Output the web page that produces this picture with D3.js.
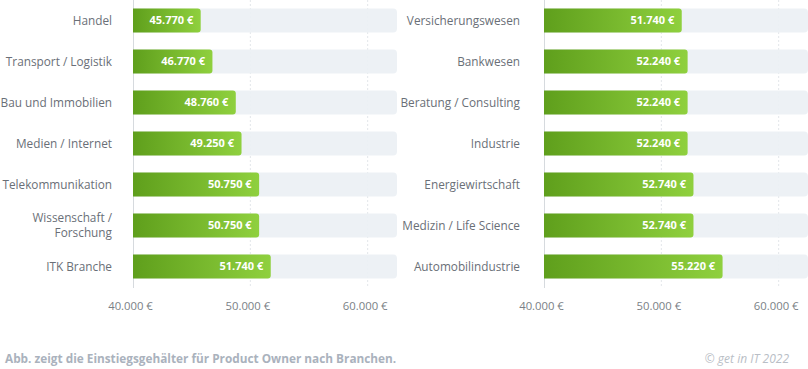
<!DOCTYPE html>
<html><head><meta charset="utf-8">
<script src="https://cdn.jsdelivr.net/npm/d3@7"></script>
<style>
html,body{margin:0;padding:0;background:#fff;}
svg{display:block;font-family:"Open Sans",sans-serif;}
</style></head>
<body><svg id="chart" width="808" height="369"></svg>
<script>
const leftCategories = ["Handel","Transport / Logistik","Bau und Immobilien","Medien / Internet","Telekommunikation","Wissenschaft / Forschung","ITK Branche"];
const leftValues = [45770,46770,48760,49250,50750,50750,51740];
const rightCategories = ["Versicherungswesen","Bankwesen","Beratung / Consulting","Industrie","Energiewirtschaft","Medizin / Life Science","Automobilindustrie"];
const rightValues = [51740,52240,52240,52240,52740,52740,55220];
const tickValues = [40000,50000,60000];
const caption = "Abb. zeigt die Einstiegsgehälter für Product Owner nach Branchen.";
const credit = "© get in IT 2022";

const locale = d3.formatLocale({decimal:",",thousands:".",grouping:[3],currency:[""," €"]});
const fmt = v => locale.format(",.0f")(v) + " €";

const svg = d3.select("#chart");
const defs = svg.append("defs");
const grad = defs.append("linearGradient").attr("id","barGrad")
  .attr("x1","0").attr("x2","1").attr("y1","0").attr("y2","0");
grad.append("stop").attr("offset","0").attr("stop-color","#5f9f1c");
grad.append("stop").attr("offset","1").attr("stop-color","#8fd03e");

function roundRightPath(x0,y,w,h,r){
  r=Math.min(r,w,h/2);
  return `M${x0},${y}H${x0+w-r}Q${x0+w},${y} ${x0+w},${y+r}V${y+h-r}Q${x0+w},${y+h} ${x0+w-r},${y+h}H${x0}Z`;
}

function panel(cats, vals, x0, x1, labelX){
  const x = d3.scaleLinear().domain([40000,62500]).range([x0,x1]);
  const y = d3.scaleBand().domain(cats).range([0,287]).paddingInner(0.42).paddingOuter(0.21);
  const g = svg.append("g");
  g.selectAll("line.grid").data(tickValues.slice(1)).join("line")
    .attr("x1",d=>x(d)).attr("x2",d=>x(d)).attr("y1",0).attr("y2",288)
    .attr("stroke","#e3e6ea").attr("stroke-width",1).attr("stroke-dasharray","2,2");
  g.selectAll("path.track").data(cats).join("path")
    .attr("d",d=>roundRightPath(x(40000),y(d),x1-x(40000),y.bandwidth(),4))
    .attr("fill","#ebf0f4").attr("fill-opacity",0.92);
  g.append("line").attr("x1",x(40000)+0.5).attr("x2",x(40000)+0.5).attr("y1",0).attr("y2",288)
    .attr("stroke","#d6dade").attr("stroke-width",1);
  g.selectAll("path.bar").data(cats).join("path")
    .attr("d",(d,i)=>roundRightPath(x(40000),y(d),x(vals[i])-x(40000),y.bandwidth(),3))
    .attr("fill","url(#barGrad)");
  g.selectAll("text.val").data(cats).join("text")
    .attr("x",(d,i)=>x(vals[i])-7.5).attr("y",d=>y(d)+y.bandwidth()/2)
    .attr("dy","0.36em").attr("text-anchor","end")
    .attr("fill","#ffffff").attr("font-weight","700").attr("font-size","11px")
    .text((d,i)=>fmt(vals[i]));
  g.selectAll("text.cat").data(cats).join("text")
    .attr("text-anchor","end").attr("fill","#6a6f77").attr("font-size","11.8px")
    .each(function(d){
      const t=d3.select(this);
      const cy=y(d)+y.bandwidth()/2;
      if(d==="Wissenschaft / Forschung"){
        t.append("tspan").attr("x",labelX).attr("y",cy-7.5).attr("dy","0.36em").text("Wissenschaft /");
        t.append("tspan").attr("x",labelX).attr("y",cy+7.5).attr("dy","0.36em").text("Forschung");
      } else {
        t.append("tspan").attr("x",labelX).attr("y",cy).attr("dy","0.36em").text(d);
      }
    });
  const axis = d3.axisBottom(x).tickValues(tickValues).tickFormat(fmt).tickSize(0).tickPadding(0);
  const ag = svg.append("g").attr("transform","translate(0,306)").call(axis);
  ag.select(".domain").remove();
  ag.selectAll("text").attr("fill","#7a7f86").attr("font-size","11.3px")
    .attr("font-family","'Open Sans',sans-serif").attr("dy","0.32em").attr("x",-3);
}

panel(leftCategories,leftValues,133,397,112);
panel(rightCategories,rightValues,544,808,520);

svg.append("text").attr("x",5).attr("y",363).attr("fill","#aab2bd")
  .attr("font-weight","700").attr("font-size","11.8px").text(caption);
svg.append("text").attr("x",789).attr("y",363).attr("text-anchor","end").attr("fill","#b9bec6")
  .attr("font-style","italic").attr("font-size","12px").text(credit);
</script></body></html>
